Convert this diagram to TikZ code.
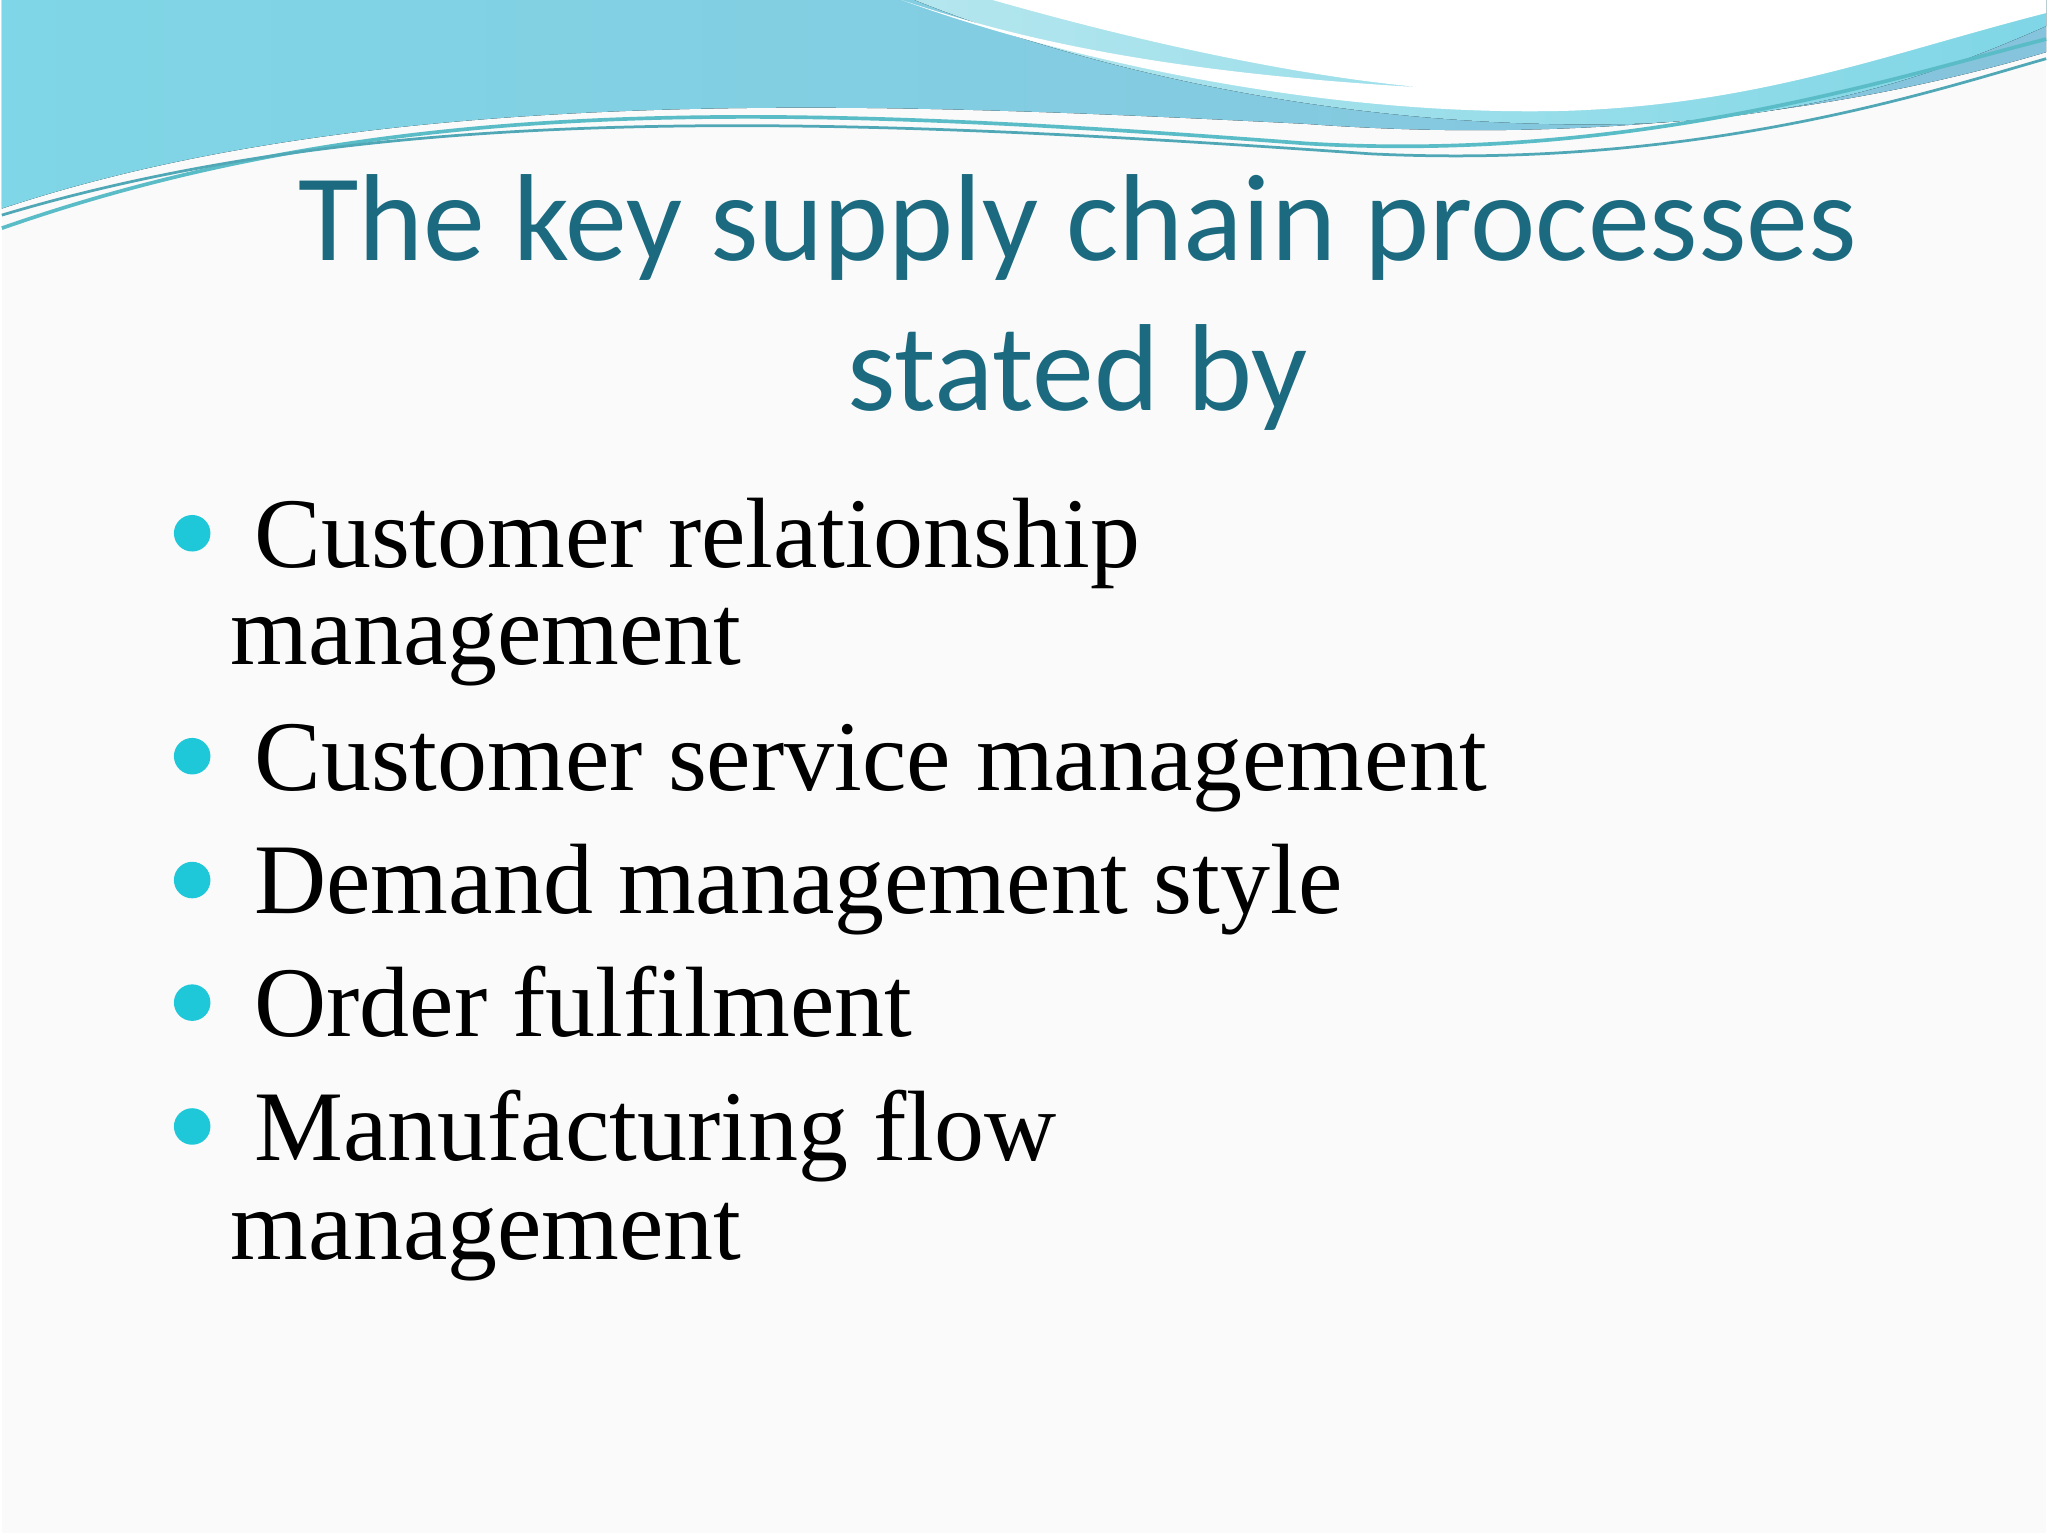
\documentclass[tikz,border=0pt]{standalone}
\usepackage{fontspec}
\setmainfont{Liberation Serif}
\newfontfamily\titlefont{Carlito}
\definecolor{titlec}{HTML}{1B6A80}
\definecolor{bulc}{HTML}{1EC8D8}
\definecolor{waveA}{HTML}{86C3DC}
\definecolor{waveB}{HTML}{7FD6E6}
\definecolor{waveC}{HTML}{B4E6EE}
\tikzset{item/.style={anchor=base west,font=\fontsize{21.8}{25}\selectfont,inner sep=0pt},
bul/.style={circle,fill=bulc,minimum size=0.28cm,inner sep=0pt},
ttl/.style={anchor=base,titlec,font=\titlefont\fontsize{27}{33}\selectfont,inner sep=0pt}}
\begin{document}
\begin{tikzpicture}[x=0.01cm,y=-0.01cm]
\fill[white!96!gray] (0,0) rectangle (1568,1176);
\fill[left color=waveB,right color=waveA] (0,0) -- (1568,0) -- (1568,40) .. controls (1400,90) and (1200,110) .. (1000,95) .. controls (700,80) and (300,60) .. (0,160) -- cycle;
\fill[left color=waveC,right color=waveB] (700,0) .. controls (850,60) and (1050,100) .. (1250,95) .. controls (1400,90) and (1500,50) .. (1568,20) -- (1568,0) -- cycle;
\fill[white] (690,0) .. controls (800,40) and (1000,90) .. (1200,85) .. controls (1350,80) and (1450,40) .. (1568,10) -- (1568,0) -- (760,0) .. controls (900,40) and (1050,70) .. (1150,70) .. controls (900,60) and (780,30) .. cycle;
\draw[waveB!70!teal,line width=0.8pt] (0,175) .. controls (300,70) and (600,80) .. (1000,110) .. controls (1250,125) and (1450,60) .. (1568,30);
\draw[waveA!60!teal,line width=0.6pt] (0,165) .. controls (300,75) and (650,90) .. (1050,118) .. controls (1300,130) and (1480,70) .. (1568,45);
\node[ttl] (title1) at (825,200) {The key supply chain processes};
\node[ttl] (title2) at (825,315) {stated by};
\node[bul] (b1) at (146,409) {};
\node[item] (t1) at (193,435) {Customer relationship};
\node[item] (t1b) at (175,510) {management};
\node[bul] (b2) at (146,580) {};
\node[item] (t2) at (193,606) {Customer service management};
\node[bul] (b3) at (146,675) {};
\node[item] (t3) at (193,701) {Demand management style};
\node[bul] (b4) at (146,769) {};
\node[item] (t4) at (193,795) {Order fulfilment};
\node[bul] (b5) at (146,864) {};
\node[item] (t5) at (193,890) {Manufacturing flow};
\node[item] (t5b) at (175,966) {management};
\end{tikzpicture}
\end{document}
